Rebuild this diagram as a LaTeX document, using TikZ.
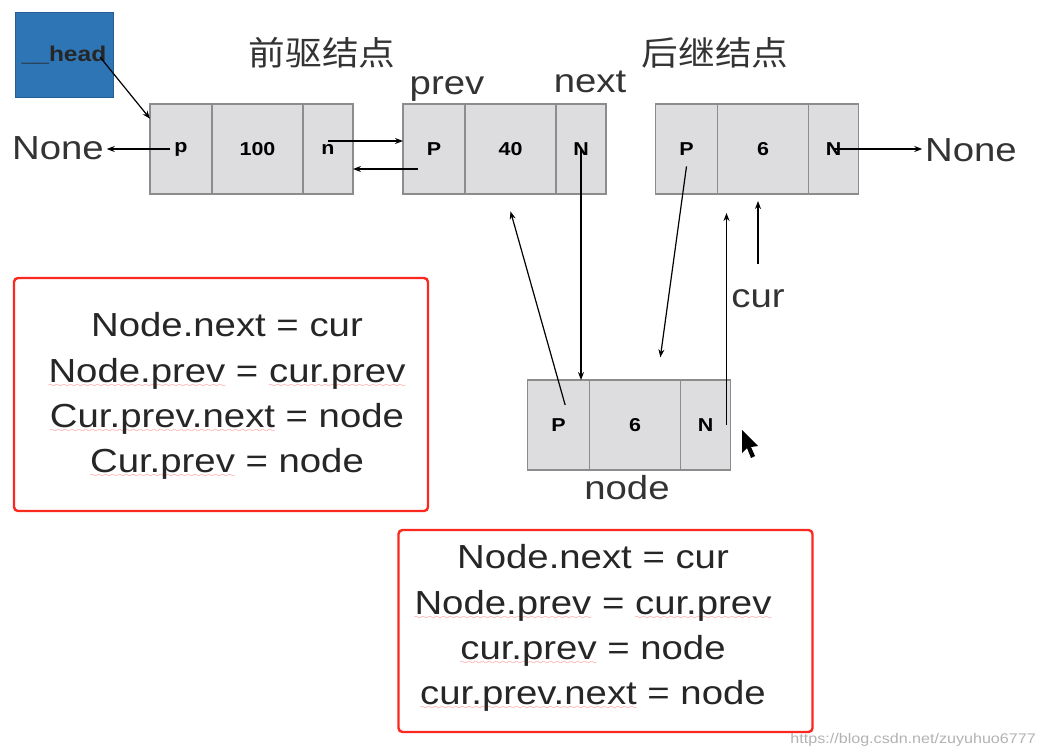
\documentclass[tikz,border=0pt]{standalone}
\usepackage{fontspec}
\setmainfont{Liberation Sans}[FakeStretch=1.15]
\newfontfamily\cjk{Noto Sans CJK SC}[FakeStretch=1.1]
\usetikzlibrary{positioning,arrows.meta,calc}
\definecolor{headblue}{RGB}{46,117,182}
\definecolor{boxred}{RGB}{250,40,30}
\definecolor{cellgray}{RGB}{221,221,223}
\font\spellwave=lasy6 \relax
\newcommand\spellmark[1]{\setbox0\hbox{#1}\rlap{\lower4pt\hbox to \wd0{\color{red!55}\xleaders\hbox{\spellwave\char58}\hfil}}\box0\relax}

\begin{document}
\begin{tikzpicture}[x=0.75pt, y=-0.75pt,
	cell/.style={draw=black!45, fill=cellgray, line width=1pt, minimum height=67.5pt,
		inner sep=0pt, outer sep=0pt, font=\fontsize{14}{16}\selectfont\bfseries},
	pcell/.style={cell, minimum width=46.5pt},
	vcell/.style={cell, minimum width=68.25pt},
	ncell/.style={cell, minimum width=37.5pt},
	lbl/.style={font=\fontsize{25}{30}\selectfont, text=black!80, inner sep=2pt},
	ptr/.style={-{Stealth[length=6pt,width=4.5pt]}, line width=0.9pt},
	codebox/.style={draw=boxred, line width=1.8pt, rounded corners=3pt,
		minimum width=310.5pt, minimum height=174.75pt},
	code/.style={align=center, font=\fontsize{25}{33.9}\selectfont, text=black!85}]

\useasboundingbox (0,0) rectangle (1042,754);

\node[fill=headblue, draw=headblue!80!black, minimum width=73.5pt, minimum height=63.75pt,
	font=\fontsize{16}{18}\selectfont\bfseries, text=black!85] (head) at (64,55) {\_\_head};

\node[pcell] (p1) at (181,149) {p};
\node[vcell, right=0pt of p1] (v1) {100};
\node[ncell, right=0pt of v1] (n1) {n};

\node[pcell] (p2) at (434,149) {P};
\node[vcell, right=0pt of p2] (v2) {40};
\node[ncell, right=0pt of v2] (n2) {N};

\node[pcell] (p3) at (686.5,149) {P};
\node[vcell, right=0pt of p3] (v3) {6};
\node[ncell, right=0pt of v3] (n3) {N};

\node[pcell] (p4) at (558.5,425) {P};
\node[vcell, right=0pt of p4] (v4) {6};
\node[ncell, right=0pt of v4] (n4) {N};

\node[lbl, anchor=base] (noneL) at (58,159) {None};
\node[lbl, anchor=base] (noneR) at (971,161) {None};
\node[lbl, font=\cjk\fontsize{25}{28}\selectfont] (pre) at (322,53) {前驱结点};
\node[lbl, font=\cjk\fontsize{25}{28}\selectfont] (succ) at (715,53) {后继结点};
\node[lbl, anchor=base] (prevlbl) at (447,94) {prev};
\node[lbl, anchor=base] (nextlbl) at (590,92) {next};
\node[lbl, anchor=base] (curlbl) at (758,307) {cur};
\node[lbl, anchor=base] (nodelbl) at (627,499) {node};

\draw[ptr] ([xshift=27pt,yshift=-1.5pt]head.center) -- ([yshift=-11pt]p1.north west);
\draw[ptr] ([xshift=-8pt]p1.center) -- (p1.center -| noneL.east);
\draw[ptr] ([yshift=6pt]n1.center) -- ([yshift=6pt]p2.west);
\draw[ptr] ([xshift=-12pt,yshift=-15pt]p2.center) -- ([yshift=-15pt]n1.east);
\draw[ptr] (n2.center) -- (n2.center |- p4.north);

\coordinate (aboveV4) at ([xshift=19pt,yshift=17pt]v4.north);
\draw[ptr] ([yshift=-13pt]p3.center) -- (aboveV4);
\draw[ptr] ([xshift=5pt,yshift=15pt]p4.center) -- ([yshift=-13pt]v2.south);
\draw[ptr] ($(n4.east)+(-4,0)$) -- ($(n4.east |- p3.south)+(-4,19)$);
\draw[ptr] ($(curlbl.north)+(0,-22)$) -- ($(curlbl.north |- v3.south)+(0,7)$);
\draw[ptr] (n3.center) -- (noneR.west |- n3.center);

\node[codebox] (box1) at (221,394.5) {};
\node[code] (code1) at (227,396) {Node.next = cur\\
	\spellmark{Node.prev} = \spellmark{cur.prev}\\
	\spellmark{Cur.prev.next} = node\\
	\spellmark{Cur.prev} = node};

\node[codebox, minimum height=151.5pt] (box2) at (605.5,631) {};
\node[code] (code2) at (593,628) {Node.next = cur\\
	\spellmark{Node.prev} = \spellmark{cur.prev}\\
	\spellmark{cur.prev} = node\\
	\spellmark{cur.prev.next} = node};

\fill (742,430) -- (742,453) -- (747,448) -- (751,458) -- (755,456) -- (751,447) -- (758,446) -- cycle;

\node[anchor=base east, font=\fontsize{10.5}{12}\selectfont, text=black!30, inner sep=0pt]
	(mark) at (1036,743) {https://blog.csdn.net/zuyuhuo6777};

\end{tikzpicture}
\end{document}
